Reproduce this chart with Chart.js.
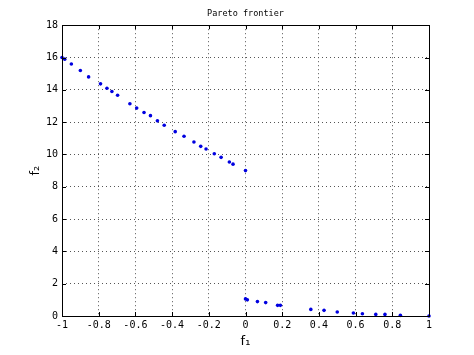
<!DOCTYPE html>
<html>
<head>
<meta charset="utf-8">
<script src="https://cdn.jsdelivr.net/npm/chart.js@4/dist/chart.umd.min.js"></script>
<style>
  html, body { margin: 0; padding: 0; background: #fff; }
  #wrap { width: 474px; height: 355px; }
</style>
</head>
<body>
<div id="wrap"><canvas id="pareto"></canvas></div>
<script>
  // values
  const f1 = [-1, -0.985, -0.949, -0.9, -0.855, -0.79, -0.755, -0.728, -0.697, -0.63, -0.593, -0.553, -0.518,
    -0.48, -0.443, -0.383, -0.335, -0.281, -0.244, -0.215, -0.17, -0.133, -0.088, -0.068, 0.0,
    0.0, 0.01, 0.065, 0.11, 0.175, 0.19, 0.356, 0.428, 0.5, 0.588, 0.637, 0.71, 0.76, 0.844, 1.0];
  const f2 = [16, 15.9, 15.6, 15.2, 14.8, 14.37, 14.1, 13.9, 13.66, 13.14, 12.87, 12.6, 12.4,
    12.08, 11.81, 11.41, 11.13, 10.77, 10.5, 10.34, 10.04, 9.82, 9.53, 9.4, 9.0,
    1.06, 1.0, 0.89, 0.83, 0.66, 0.66, 0.41, 0.35, 0.25, 0.19, 0.14, 0.1, 0.1, 0.04, 0.0];

  const xTicks = [-1, -0.8, -0.6, -0.4, -0.2, 0, 0.2, 0.4, 0.6, 0.8, 1];
  const yTicks = [0, 2, 4, 6, 8, 10, 12, 14, 16, 18];

  const tickFont = { family: 'DejaVu Sans Mono', size: 10 };

  // box around the plot area plus short inward ticks
  const frame = {
    id: 'frame',
    afterDraw(chart) {
      const { ctx, chartArea: a, scales } = chart;
      ctx.save();
      ctx.strokeStyle = '#000';
      ctx.lineWidth = 1;
      ctx.beginPath();
      xTicks.forEach(v => {
        const px = Math.round(scales.x.getPixelForValue(v)) + 0.5;
        ctx.moveTo(px, a.bottom); ctx.lineTo(px, a.bottom - 4);
        ctx.moveTo(px, a.top); ctx.lineTo(px, a.top + 4);
      });
      yTicks.forEach(v => {
        const py = Math.round(scales.y.getPixelForValue(v)) + 0.5;
        ctx.moveTo(a.left, py); ctx.lineTo(a.left + 4, py);
        ctx.moveTo(a.right, py); ctx.lineTo(a.right - 4, py);
      });
      ctx.stroke();
      ctx.strokeRect(Math.round(a.left) + 0.5, Math.round(a.top) + 0.5,
        Math.round(a.right - a.left), Math.round(a.bottom - a.top));
      ctx.restore();
    }
  };

  new Chart(document.getElementById('pareto'), {
    type: 'scatter',
    data: {
      datasets: [{
        data: f1.map((x, i) => ({ x: x, y: f2[i] })),
        pointStyle: 'circle',
        pointRadius: 1.8,
        pointBackgroundColor: '#0000e0',
        pointBorderColor: '#0000e0',
        pointBorderWidth: 0,
        clip: 6,
      }],
    },
    options: {
      responsive: true,
      maintainAspectRatio: false,
      animation: false,
      layout: {
        padding: { left: 0, right: 45, top: 0, bottom: 0 },
      },
      scales: {
        x: {
          type: 'linear',
          min: -1,
          max: 1,
          afterBuildTicks: (s) => { s.ticks = xTicks.map(v => ({ value: v })); },
          afterFit: (s) => { s.height = 39; },
          ticks: {
            font: tickFont,
            color: '#000',
            padding: 3,
            maxRotation: 0,
            callback: (v) => String(Math.round(v * 10) / 10),
          },
          grid: {
            color: '#555',
            drawTicks: false,
          },
          border: { display: false, dash: [1, 3] },
          title: {
            display: true,
            text: 'f₁',
            color: '#000',
            font: { family: 'DejaVu Sans', size: 13 },
            padding: { top: 0, bottom: 6 },
          },
        },
        y: {
          type: 'linear',
          min: 0,
          max: 18,
          afterBuildTicks: (s) => { s.ticks = yTicks.map(v => ({ value: v })); },
          afterFit: (s) => { s.width = 62; },
          ticks: {
            font: tickFont,
            color: '#000',
            padding: 4,
          },
          grid: {
            color: '#555',
            drawTicks: false,
          },
          border: { display: false, dash: [1, 3] },
          title: {
            display: true,
            text: 'f₂',
            color: '#000',
            font: { family: 'DejaVu Sans', size: 13 },
            padding: { top: 28, bottom: 0 },
          },
        },
      },
      plugins: {
        legend: { display: false },
        tooltip: { enabled: false },
        title: {
          display: true,
          fullSize: false,
          text: 'Pareto frontier',
          color: '#000',
          font: { family: 'DejaVu Sans Mono', size: 8.5, weight: 'normal' },
          padding: { top: 9, bottom: 6 },
        },
      },
    },
    plugins: [frame],
  });
</script>
</body>
</html>
